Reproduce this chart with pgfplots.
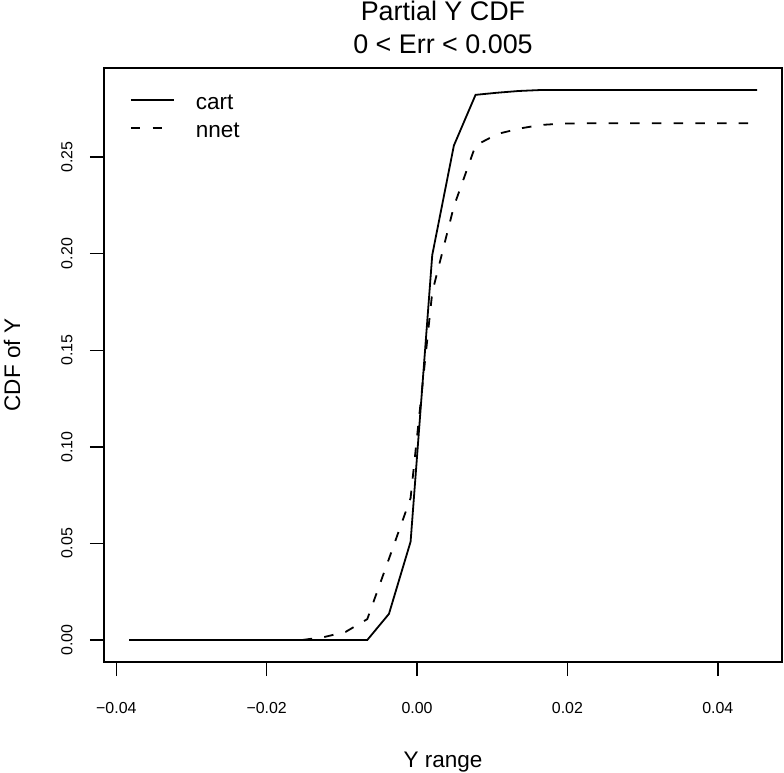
\documentclass[border=0pt]{standalone}
\usepackage{fontspec}
\setmainfont{Liberation Sans}
\usepackage{pgfplots}
\pgfplotsset{compat=1.18}
\usepackage{pgfplotstable}

\pgfplotstableread{
x        cart    nnet
-0.03830 0.0000  0.0000
-0.03542 0.0000  0.0000
-0.03254 0.0000  0.0000
-0.02966 0.0000  0.0000
-0.02678 0.0000  0.0000
-0.02390 0.0000  0.0000
-0.02102 0.0000  0.0000
-0.01814 0.0000  0.0000
-0.01526 0.0000  0.0000
-0.01238 0.0000  0.0015
-0.00950 0.0000  0.0042
-0.00662 0.0000  0.0108
-0.00374 0.0135  0.0420
-0.00086 0.0509  0.0735
 0.00202 0.1993  0.1800
 0.00490 0.2560  0.2245
 0.00778 0.2822  0.2560
 0.01066 0.2833  0.2619
 0.01354 0.2842  0.2647
 0.01642 0.2847  0.2666
 0.01930 0.2847  0.2673
 0.02218 0.2847  0.2675
 0.02506 0.2847  0.2675
 0.02794 0.2847  0.2675
 0.03082 0.2847  0.2675
 0.03370 0.2847  0.2675
 0.03658 0.2847  0.2675
 0.03946 0.2847  0.2675
 0.04234 0.2847  0.2675
 0.04522 0.2847  0.2675
}\datatable

\begin{document}
\begin{tikzpicture}
\begin{axis}[
  scale only axis,
  width=678bp, height=594bp,
  xmin=-0.04164, xmax=0.04854,
  ymin=-0.0114, ymax=0.2961,
  scaled x ticks=false, scaled y ticks=false,
  axis line style={line width=1.4bp},
  xtick={-0.04,-0.02,0,0.02,0.04},
  xticklabels={−0.04,−0.02,0.00,0.02,0.04},
  ytick={0,0.05,0.10,0.15,0.20,0.25},
  yticklabels={0.00,0.05,0.10,0.15,0.20,0.25},
  tick align=outside,
  xtick pos=bottom, ytick pos=left,
  major tick length=14bp,
  tick style={line width=1.4bp, black},
  every tick label/.append style={font=\fontsize{16}{19}\selectfont},
  xticklabel style={anchor=center, yshift=-32bp},
  yticklabel style={rotate=90, anchor=center, yshift=23bp},
  xlabel={Y range},
  xlabel style={at={(axis description cs:0.5,-0.1684)}, anchor=center, font=\fontsize{22.6}{27}\selectfont},
  ylabel={CDF of Y},
  ylabel style={at={(axis description cs:-0.1357,0.5)}, anchor=center, font=\fontsize{22.6}{27}\selectfont},
  title={Partial Y CDF\\0 < Err < 0.005},
  title style={at={(axis description cs:0.5,1.0138)}, anchor=south, inner sep=0pt, align=center, font=\fontsize{27}{32.6}\selectfont},
  legend style={draw=none, fill=none, at={(axis description cs:0.03835,0.963)}, anchor=north west,
    inner sep=0pt, outer sep=0pt, row sep=8bp, font=\fontsize{22.6}{27}\selectfont,
    nodes={inner sep=0pt, text height=20bp, text depth=0bp},
    /tikz/every odd column/.append style={column sep=21bp}},
  legend cell align=left,
  legend image code/.code={\draw[#1] (0bp,0bp) -- (43bp,0bp);},
]
\addplot[black, line width=1.8bp] table[x=x, y=cart] {\datatable};
\addlegendentry{cart}
\addplot[black, line width=1.8bp, dash pattern=on 9.5bp off 12.2bp] table[x=x, y=nnet] {\datatable};
\addlegendentry{nnet}
\end{axis}
\pgfresetboundingbox
\path[use as bounding box] (-104bp,-111bp) rectangle (680bp,662bp);
\end{tikzpicture}
\end{document}
